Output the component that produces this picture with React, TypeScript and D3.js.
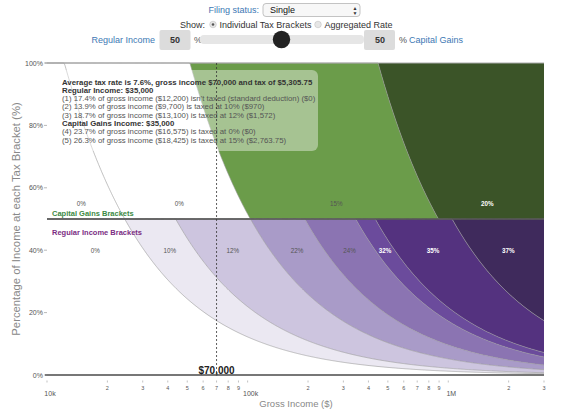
import React from "react";
import * as d3 from "d3";

const standardDeduction = 12200;
const regularRates = [10, 12, 22, 24, 32, 35, 37];
const regularUpper = [9700, 39475, 84200, 160725, 204100, 510300, Infinity];
const capGainsRates = [0, 15, 20];
const capGainsUpper = [39375, 434550, Infinity];
const regularShare = 50; // % of gross income that is regular income
const selectedIncome = 70000;

const regularColors = ["#ffffff", "#ebe8f2", "#cdc5df", "#a99bc8", "#8b74b2", "#6b4b9c", "#54327f", "#3f2a5c"];
const capGainsColors = ["#ffffff", "#ffffff", "#6b9c4a", "#3b5428"];
const regularLabels = ["0%", ...regularRates.map((r) => r + "%")];
const capGainsLabels = ["0%", ...capGainsRates.map((r) => r + "%")];

const xTicks = [10000, 20000, 30000, 40000, 50000, 60000, 70000, 80000, 90000, 100000, 200000, 300000, 400000, 500000, 600000, 700000, 800000, 900000, 1000000, 2000000, 3000000];
const yTicks = [0, 20, 40, 60, 80, 100];

const font = "'Liberation Sans', Arial, Helvetica, sans-serif";

// split gross income into the amount falling into each bracket
function split(G: number) {
  const R = (G * regularShare) / 100;
  const C = G - R;
  const T = Math.max(0, R - standardDeduction);
  const reg = [Math.min(R, standardDeduction)];
  let lower = 0;
  regularUpper.forEach((u) => {
    reg.push(Math.max(0, Math.min(T, u) - lower));
    lower = u;
  });
  const cgDed = Math.min(C, Math.max(0, standardDeduction - R));
  const cgTax = C - cgDed;
  const cg = [cgDed];
  lower = 0;
  capGainsUpper.forEach((u) => {
    cg.push(Math.max(0, Math.min(T + cgTax, u) - Math.max(T, lower)));
    lower = u;
  });
  return { R, C, reg, cg };
}

const money = (v: number) =>
  "$" + (Math.abs(v - Math.round(v)) < 1e-6 ? d3.format(",.0f")(v) : d3.format(",.2f")(v));

export default function App() {
  const x = d3.scaleLog().domain([10000, 3000000]).range([47, 544]);
  const y = d3.scaleLinear().domain([0, 100]).range([375, 63]);

  const n = 500;
  const samples = d3.range(n + 1).map((i) => x.invert(47 + ((544 - 47) * i) / n));
  const rows = samples.map((G) => {
    const s = split(G);
    const regCum: number[] = [0];
    s.reg.forEach((v) => regCum.push(regCum[regCum.length - 1] + (v / G) * 100));
    const cgCum: number[] = [regularShare];
    s.cg.forEach((v) => cgCum.push(cgCum[cgCum.length - 1] + (v / G) * 100));
    return { G, regCum, cgCum };
  });

  const area = (key: "regCum" | "cgCum", k: number) =>
    d3
      .area<(typeof rows)[0]>()
      .x((d) => x(d.G))
      .y0((d) => y(d[key][k]))
      .y1((d) => y(d[key][k + 1]))(rows) as string;
  const line = (key: "regCum" | "cgCum", k: number) =>
    d3
      .line<(typeof rows)[0]>()
      .x((d) => x(d.G))
      .y((d) => y(d[key][k]))(rows) as string;

  // label positions: middle of each band along a fixed height
  const labelX = (key: "regCum" | "cgCum", count: number, h: number) =>
    d3.range(count).map((k) => {
      const xs = rows.filter((d) => d[key][k] < h && d[key][k + 1] >= h).map((d) => x(d.G));
      return xs.length ? (d3.min(xs)! + d3.max(xs)!) / 2 : -100;
    });
  const regLabelX = labelX("regCum", regularLabels.length, 40);
  const cgLabelX = labelX("cgCum", capGainsLabels.length, 55);

  // tooltip for the selected income
  const sel = split(selectedIncome);
  const pct = (v: number) => d3.format(".1f")((v / selectedIncome) * 100) + "%";
  const regTax = sel.reg.map((v, i) => (i === 0 ? 0 : (v * regularRates[i - 1]) / 100));
  const cgTax = sel.cg.map((v, i) => (i === 0 ? 0 : (v * capGainsRates[i - 1]) / 100));
  const totalTax = d3.sum(regTax) + d3.sum(cgTax);
  const tipLines: { t: string; b?: boolean }[] = [
    {
      t: `Average tax rate is ${d3.format(".1f")((totalTax / selectedIncome) * 100)}%, gross income ${money(selectedIncome)} and tax of ${money(totalTax)}`,
      b: true,
    },
    { t: `Regular Income: ${money(sel.R)}`, b: true },
  ];
  let idx = 1;
  sel.reg.forEach((v, i) => {
    if (v <= 0) return;
    tipLines.push({
      t:
        i === 0
          ? `(${idx++}) ${pct(v)} of gross income (${money(v)}) isn't taxed (standard deduction) (${money(0)})`
          : `(${idx++}) ${pct(v)} of gross income (${money(v)}) is taxed at ${regularRates[i - 1]}% (${money(regTax[i])})`,
    });
  });
  tipLines.push({ t: `Capital Gains Income: ${money(sel.C)}`, b: true });
  sel.cg.forEach((v, i) => {
    if (v <= 0) return;
    tipLines.push({
      t:
        i === 0
          ? `(${idx++}) ${pct(v)} of gross income (${money(v)}) isn't taxed (standard deduction) (${money(0)})`
          : `(${idx++}) ${pct(v)} of gross income (${money(v)}) is taxed at ${capGainsRates[i - 1]}% (${money(cgTax[i])})`,
    });
  });

  const blue = "#3d78b4";
  const sx = x(selectedIncome);

  return (
    <svg width={561} height={414} style={{ position: "absolute", left: 0, top: 0, fontFamily: font }}>
      <rect width={561} height={414} fill="#fff" />

      {/* controls */}
      <g fontSize={9}>
        <text x={259} y={13} textAnchor="end" fill={blue}>Filing status:</text>
        <rect x={263} y={3.5} width={97} height={13} rx={3} fill="#f7f7f7" stroke="#aaa" strokeWidth={0.7} />
        <text x={270} y={13.3} fill="#111">Single</text>
        <text x={355} y={9.5} fontSize={5} textAnchor="middle" fill="#333">▲</text>
        <text x={355} y={15} fontSize={5} textAnchor="middle" fill="#333">▼</text>

        <text x={180} y={27.5} fill="#333">Show:</text>
        <circle cx={213} cy={24.5} r={3.3} fill="#e6e6e6" stroke="#bbb" strokeWidth={0.5} />
        <circle cx={213} cy={24.5} r={1.3} fill="#555" />
        <text x={219.5} y={27.5} fill="#333">Individual Tax Brackets</text>
        <circle cx={318} cy={24.5} r={3.3} fill="#e6e6e6" stroke="#bbb" strokeWidth={0.5} />
        <text x={324.5} y={27.5} fill="#333">Aggregated Rate</text>

        <text x={155} y={42.5} textAnchor="end" fill={blue}>Regular Income</text>
        <rect x={159.5} y={30} width={31} height={20} rx={2} fill="#dcdcdc" />
        <text x={175} y={42.5} textAnchor="middle" fontWeight="bold" fill="#333">{regularShare}</text>
        <text x={194} y={42.5} fill="#555">%</text>
        <rect x={200} y={35} width={164} height={9} rx={4} fill="#e6e6e6" />
        <circle cx={281.5} cy={39.5} r={8.7} fill="#222" />
        <rect x={364} y={30} width={31} height={20} rx={2} fill="#dcdcdc" />
        <text x={380} y={42.5} textAnchor="middle" fontWeight="bold" fill="#333">{100 - regularShare}</text>
        <text x={399} y={42.5} fill="#555">%</text>
        <text x={409} y={42.5} fill={blue}>Capital Gains</text>
      </g>

      {/* bands */}
      {regularColors.map((c, k) => (
        <path key={"r" + k} d={area("regCum", k)} fill={c} />
      ))}
      {capGainsColors.map((c, k) => (
        <path key={"c" + k} d={area("cgCum", k)} fill={c} />
      ))}
      {regularColors.slice(0, -1).map((c, k) => (
        <path key={"rl" + k} d={line("regCum", k + 1)} fill="none" stroke="#999" strokeWidth={0.6} />
      ))}
      {capGainsColors.slice(0, -1).map((c, k) => (
        <path key={"cl" + k} d={line("cgCum", k + 1)} fill="none" stroke="#999" strokeWidth={0.6} />
      ))}

      <line x1={45} x2={544} y1={y(100)} y2={y(100)} stroke="#aaa" strokeWidth={1} />
      <line x1={47} x2={544} y1={y(regularShare)} y2={y(regularShare)} stroke="#333" strokeWidth={1} />
      <line x1={45} x2={544} y1={y(0)} y2={y(0)} stroke="#777" strokeWidth={1.8} />

      {/* band labels */}
      <g fontSize={6.3} textAnchor="middle">
        {regularLabels.map((l, k) => (
          <text key={l} x={regLabelX[k]} y={y(40) + 2.3} fill={k >= 5 ? "#fff" : "#555"} fontWeight={k >= 5 ? "bold" : "normal"}>
            {l}
          </text>
        ))}
        {capGainsLabels.map((l, k) => (
          <text key={k} x={cgLabelX[k]} y={y(55) + 2.3} fill={k >= 3 ? "#fff" : "#555"} fontWeight={k >= 3 ? "bold" : "normal"}>
            {l}
          </text>
        ))}
      </g>
      <text x={52} y={215.5} fontSize={7.5} fontWeight="bold" fill="#3b8a44">Capital Gains Brackets</text>
      <text x={52} y={235} fontSize={7.5} fontWeight="bold" fill="#7b2d83">Regular Income Brackets</text>

      {/* y axis */}
      <g fontSize={7} fill="#555">
        {yTicks.map((t) => (
          <g key={t}>
            <text x={43} y={y(t) + 2.5} textAnchor="end">{t}%</text>
            <line x1={44} x2={47} y1={y(t)} y2={y(t)} stroke="#888" strokeWidth={0.6} />
          </g>
        ))}
      </g>
      <text transform={`translate(20,${y(50)}) rotate(-90)`} textAnchor="middle" fontSize={11.3} fill="#888">
        Percentage of Income at each Tax Bracket (%)
      </text>

      {/* x axis */}
      <g fill="#555">
        {xTicks.map((t) => {
          const lead = t / Math.pow(10, Math.floor(Math.log10(t) + 1e-9));
          const major = Math.round(lead) === 1;
          return (
            <g key={t}>
              <line x1={x(t)} x2={x(t)} y1={380.5} y2={382.5} stroke="#999" strokeWidth={0.6} />
              {major ? (
                <text x={x(t) + 3} y={395.5} fontSize={7} textAnchor="middle">
                  {d3.format(".0s")(t)}
                </text>
              ) : (
                <text x={x(t)} y={389.5} fontSize={5.5} textAnchor="middle">{Math.round(lead)}</text>
              )}
            </g>
          );
        })}
      </g>
      <text x={296} y={407} textAnchor="middle" fontSize={9.5} fill="#888">Gross Income ($)</text>

      {/* tooltip */}
      <rect x={56} y={70} width={262} height={81} rx={6} fill="#fff" fillOpacity={0.4} />
      <g fontSize={7.8}>
        {tipLines.map((l, i) => (
          <text key={i} x={62} y={84.5 + i * 8.3} fontWeight={l.b ? "bold" : "normal"} fill={l.b ? "#333" : "#555"}>
            {l.t}
          </text>
        ))}
      </g>

      {/* selected income marker */}
      <text x={sx} y={373.5} textAnchor="middle" fontSize={10} fontWeight="bold" fill="#222">
        {money(selectedIncome)}
      </text>
      <line x1={sx} x2={sx} y1={y(100)} y2={y(0)} stroke="#333" strokeWidth={0.8} strokeDasharray="2,2" />
    </svg>
  );
}
